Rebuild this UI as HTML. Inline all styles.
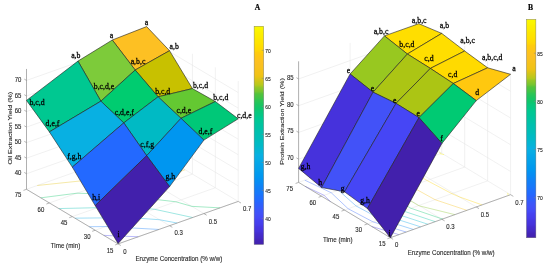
<!DOCTYPE html>
<html><head><meta charset="utf-8"><style>
html,body{margin:0;padding:0;background:#fff;}
svg{display:block;filter:blur(0.3px);}
</style></head><body>
<svg width="550" height="267" viewBox="0 0 550 267">
<rect width="550" height="267" fill="#fff"/>
<g><line x1="26.5" y1="189.3" x2="146.62" y2="146.81" stroke="#e2e2e2" stroke-width="0.5"/><line x1="146.62" y1="146.81" x2="146.62" y2="26.45" stroke="#e2e2e2" stroke-width="0.5"/><line x1="49.4" y1="202.95" x2="169.52" y2="160.46" stroke="#e2e2e2" stroke-width="0.5"/><line x1="72.3" y1="216.6" x2="192.42" y2="174.11" stroke="#e2e2e2" stroke-width="0.5"/><line x1="192.42" y1="174.11" x2="192.42" y2="53.75" stroke="#e2e2e2" stroke-width="0.5"/><line x1="95.2" y1="230.25" x2="215.32" y2="187.76" stroke="#e2e2e2" stroke-width="0.5"/><line x1="215.32" y1="187.76" x2="215.32" y2="67.4" stroke="#e2e2e2" stroke-width="0.5"/><line x1="118.1" y1="243.9" x2="238.22" y2="201.41" stroke="#e2e2e2" stroke-width="0.5"/><line x1="238.22" y1="201.41" x2="238.22" y2="81.05" stroke="#e2e2e2" stroke-width="0.5"/><line x1="26.5" y1="189.3" x2="118.1" y2="243.9" stroke="#e2e2e2" stroke-width="0.5"/><line x1="26.5" y1="189.3" x2="26.5" y2="68.94" stroke="#e2e2e2" stroke-width="0.5"/><line x1="77.98" y1="171.09" x2="169.58" y2="225.69" stroke="#e2e2e2" stroke-width="0.5"/><line x1="77.98" y1="171.09" x2="77.98" y2="50.73" stroke="#e2e2e2" stroke-width="0.5"/><line x1="112.3" y1="158.95" x2="203.9" y2="213.55" stroke="#e2e2e2" stroke-width="0.5"/><line x1="112.3" y1="158.95" x2="112.3" y2="38.59" stroke="#e2e2e2" stroke-width="0.5"/><line x1="146.62" y1="146.81" x2="238.22" y2="201.41" stroke="#e2e2e2" stroke-width="0.5"/><line x1="146.62" y1="146.81" x2="146.62" y2="26.45" stroke="#e2e2e2" stroke-width="0.5"/><line x1="26.5" y1="173.75" x2="146.62" y2="131.26" stroke="#e2e2e2" stroke-width="0.5"/><line x1="146.62" y1="131.26" x2="238.22" y2="185.86" stroke="#e2e2e2" stroke-width="0.5"/><line x1="26.5" y1="158.2" x2="146.62" y2="115.71" stroke="#e2e2e2" stroke-width="0.5"/><line x1="146.62" y1="115.71" x2="238.22" y2="170.31" stroke="#e2e2e2" stroke-width="0.5"/><line x1="26.5" y1="142.65" x2="146.62" y2="100.16" stroke="#e2e2e2" stroke-width="0.5"/><line x1="146.62" y1="100.16" x2="238.22" y2="154.76" stroke="#e2e2e2" stroke-width="0.5"/><line x1="26.5" y1="127.1" x2="146.62" y2="84.61" stroke="#e2e2e2" stroke-width="0.5"/><line x1="146.62" y1="84.61" x2="238.22" y2="139.21" stroke="#e2e2e2" stroke-width="0.5"/><line x1="26.5" y1="111.55" x2="146.62" y2="69.06" stroke="#e2e2e2" stroke-width="0.5"/><line x1="146.62" y1="69.06" x2="238.22" y2="123.66" stroke="#e2e2e2" stroke-width="0.5"/><line x1="26.5" y1="96" x2="146.62" y2="53.51" stroke="#e2e2e2" stroke-width="0.5"/><line x1="146.62" y1="53.51" x2="238.22" y2="108.11" stroke="#e2e2e2" stroke-width="0.5"/><line x1="26.5" y1="80.45" x2="146.62" y2="37.96" stroke="#e2e2e2" stroke-width="0.5"/><line x1="146.62" y1="37.96" x2="238.22" y2="92.56" stroke="#e2e2e2" stroke-width="0.5"/></g>
<g><path d="M138.26 236.77 L103.79 235.37" fill="none" stroke="#4646f5" stroke-width="0.5" stroke-opacity="0.75"/><path d="M158.95 229.45 L105.64 226.56 L89.26 226.71" fill="none" stroke="#147cf9" stroke-width="0.5" stroke-opacity="0.75"/><path d="M177.13 223.02 L159.6 219.74 L130.83 217.65 L74.93 218.17" fill="none" stroke="#05a8e6" stroke-width="0.5" stroke-opacity="0.75"/><path d="M192.66 217.52 L154.54 209.26 L139.76 207.91 L97.46 207.7 L58.8 208.56" fill="none" stroke="#00bfb2" stroke-width="0.5" stroke-opacity="0.75"/><path d="M220.01 207.85 L191.82 206.35 L175.75 201.76 L129.34 196.42 L117.35 194.56 L77.02 193.18 L40.8 197.83" fill="none" stroke="#11c668" stroke-width="0.5" stroke-opacity="0.75"/><path d="M185.06 169.73 L151.4 182.25 L118.45 178.52 L92.43 179.7 L37.24 185.5" fill="none" stroke="#e4c416" stroke-width="0.5" stroke-opacity="0.75"/><path d="M170.38 160.97 L165.16 162 L126.45 167.38 L78.97 171.68 L75.2 172.07" fill="none" stroke="#ffd505" stroke-width="0.5" stroke-opacity="0.75"/></g>
<g><line x1="26.5" y1="189.3" x2="26.5" y2="68.94" stroke="#858585" stroke-width="0.6"/><line x1="26.5" y1="189.3" x2="118.1" y2="243.9" stroke="#858585" stroke-width="0.6"/><line x1="118.1" y1="243.9" x2="238.22" y2="201.41" stroke="#858585" stroke-width="0.6"/><line x1="26.5" y1="173.75" x2="24.3" y2="172.44" stroke="#858585" stroke-width="0.6"/><line x1="26.5" y1="158.2" x2="24.3" y2="156.89" stroke="#858585" stroke-width="0.6"/><line x1="26.5" y1="142.65" x2="24.3" y2="141.34" stroke="#858585" stroke-width="0.6"/><line x1="26.5" y1="127.1" x2="24.3" y2="125.79" stroke="#858585" stroke-width="0.6"/><line x1="26.5" y1="111.55" x2="24.3" y2="110.24" stroke="#858585" stroke-width="0.6"/><line x1="26.5" y1="96" x2="24.3" y2="94.69" stroke="#858585" stroke-width="0.6"/><line x1="26.5" y1="80.45" x2="24.3" y2="79.14" stroke="#858585" stroke-width="0.6"/><line x1="26.5" y1="189.3" x2="23.48" y2="190.37" stroke="#858585" stroke-width="0.6"/><line x1="49.4" y1="202.95" x2="46.38" y2="204.02" stroke="#858585" stroke-width="0.6"/><line x1="72.3" y1="216.6" x2="69.28" y2="217.67" stroke="#858585" stroke-width="0.6"/><line x1="95.2" y1="230.25" x2="92.18" y2="231.32" stroke="#858585" stroke-width="0.6"/><line x1="118.1" y1="243.9" x2="115.08" y2="244.97" stroke="#858585" stroke-width="0.6"/><line x1="118.1" y1="243.9" x2="120.85" y2="245.54" stroke="#858585" stroke-width="0.6"/><line x1="169.58" y1="225.69" x2="172.33" y2="227.33" stroke="#858585" stroke-width="0.6"/><line x1="203.9" y1="213.55" x2="206.65" y2="215.19" stroke="#858585" stroke-width="0.6"/><line x1="238.22" y1="201.41" x2="240.97" y2="203.05" stroke="#858585" stroke-width="0.6"/></g>
<g><polygon points="112.3,40 146.62,26.6 169.52,50.7 135.2,70" fill="#fdc023" stroke="#202020" stroke-width="0.6" stroke-linejoin="round"/><polygon points="77.98,61.1 112.3,40 135.2,70 100.88,101.2" fill="#7dcb3a" stroke="#202020" stroke-width="0.6" stroke-linejoin="round"/><polygon points="135.2,70 169.52,50.7 192.42,88.6 158.1,96.8" fill="#c8c100" stroke="#202020" stroke-width="0.6" stroke-linejoin="round"/><polygon points="26.5,100.4 77.98,61.1 100.88,101.2 49.4,131.9" fill="#00c891" stroke="#202020" stroke-width="0.6" stroke-linejoin="round"/><polygon points="100.88,101.2 135.2,70 158.1,96.8 123.78,122.9" fill="#00cc70" stroke="#202020" stroke-width="0.6" stroke-linejoin="round"/><polygon points="158.1,96.8 192.42,88.6 215.32,101.5 181,118.3" fill="#64c832" stroke="#202020" stroke-width="0.6" stroke-linejoin="round"/><polygon points="49.4,131.9 100.88,101.2 123.78,122.9 72.3,167.1" fill="#08b0e2" stroke="#202020" stroke-width="0.6" stroke-linejoin="round"/><polygon points="123.78,122.9 158.1,96.8 181,118.3 146.68,155.6" fill="#00bac4" stroke="#202020" stroke-width="0.6" stroke-linejoin="round"/><polygon points="181,118.3 215.32,101.5 238.22,118.8 203.9,140.1" fill="#00c878" stroke="#202020" stroke-width="0.6" stroke-linejoin="round"/><polygon points="72.3,167.1 123.78,122.9 146.68,155.6 95.2,205.6" fill="#2369ff" stroke="#202020" stroke-width="0.6" stroke-linejoin="round"/><polygon points="146.68,155.6 181,118.3 203.9,140.1 169.58,186.6" fill="#0096f0" stroke="#202020" stroke-width="0.6" stroke-linejoin="round"/><polygon points="95.2,205.6 146.68,155.6 169.58,186.6 118.1,243.5" fill="#4220ac" stroke="#202020" stroke-width="0.6" stroke-linejoin="round"/></g>
<g><line x1="298.6" y1="182.4" x2="418.79" y2="139.4" stroke="#e2e2e2" stroke-width="0.5"/><line x1="418.79" y1="139.4" x2="418.79" y2="18.34" stroke="#e2e2e2" stroke-width="0.5"/><line x1="321.55" y1="196.22" x2="441.74" y2="153.22" stroke="#e2e2e2" stroke-width="0.5"/><line x1="441.74" y1="153.22" x2="441.74" y2="32.17" stroke="#e2e2e2" stroke-width="0.5"/><line x1="344.5" y1="210.05" x2="464.69" y2="167.05" stroke="#e2e2e2" stroke-width="0.5"/><line x1="464.69" y1="167.05" x2="464.69" y2="45.99" stroke="#e2e2e2" stroke-width="0.5"/><line x1="367.45" y1="223.88" x2="487.64" y2="180.87" stroke="#e2e2e2" stroke-width="0.5"/><line x1="487.64" y1="180.87" x2="487.64" y2="59.82" stroke="#e2e2e2" stroke-width="0.5"/><line x1="390.4" y1="237.7" x2="510.59" y2="194.7" stroke="#e2e2e2" stroke-width="0.5"/><line x1="510.59" y1="194.7" x2="510.59" y2="73.64" stroke="#e2e2e2" stroke-width="0.5"/><line x1="298.6" y1="182.4" x2="390.4" y2="237.7" stroke="#e2e2e2" stroke-width="0.5"/><line x1="298.6" y1="182.4" x2="298.6" y2="61.34" stroke="#e2e2e2" stroke-width="0.5"/><line x1="350.11" y1="163.97" x2="441.91" y2="219.27" stroke="#e2e2e2" stroke-width="0.5"/><line x1="350.11" y1="163.97" x2="350.11" y2="42.91" stroke="#e2e2e2" stroke-width="0.5"/><line x1="384.45" y1="151.69" x2="476.25" y2="206.98" stroke="#e2e2e2" stroke-width="0.5"/><line x1="384.45" y1="151.69" x2="384.45" y2="30.63" stroke="#e2e2e2" stroke-width="0.5"/><line x1="418.79" y1="139.4" x2="510.59" y2="194.7" stroke="#e2e2e2" stroke-width="0.5"/><line x1="418.79" y1="139.4" x2="418.79" y2="18.34" stroke="#e2e2e2" stroke-width="0.5"/><line x1="298.6" y1="159.19" x2="418.79" y2="116.19" stroke="#e2e2e2" stroke-width="0.5"/><line x1="418.79" y1="116.19" x2="510.59" y2="171.49" stroke="#e2e2e2" stroke-width="0.5"/><line x1="298.6" y1="132.46" x2="418.79" y2="89.46" stroke="#e2e2e2" stroke-width="0.5"/><line x1="418.79" y1="89.46" x2="510.59" y2="144.76" stroke="#e2e2e2" stroke-width="0.5"/><line x1="298.6" y1="105.72" x2="418.79" y2="62.72" stroke="#e2e2e2" stroke-width="0.5"/><line x1="418.79" y1="62.72" x2="510.59" y2="118.02" stroke="#e2e2e2" stroke-width="0.5"/><line x1="298.6" y1="78.99" x2="418.79" y2="35.99" stroke="#e2e2e2" stroke-width="0.5"/><line x1="418.79" y1="35.99" x2="510.59" y2="91.29" stroke="#e2e2e2" stroke-width="0.5"/></g>
<g><path d="M391.63 237.26 L387.69 236.07" fill="none" stroke="#4222b1" stroke-width="0.5" stroke-opacity="0.75"/><path d="M330.67 201.72 L324.09 195.32 L305.07 186.3" fill="none" stroke="#463dea" stroke-width="0.5" stroke-opacity="0.75"/><path d="M398.89 234.66 L371.72 226.45" fill="none" stroke="#463dea" stroke-width="0.5" stroke-opacity="0.75"/><path d="M406.15 232.06 L373.02 221.88 L348.15 208.74 L331.25 192.75 L304.84 180.17" fill="none" stroke="#2d62fd" stroke-width="0.5" stroke-opacity="0.75"/><path d="M413.42 229.47 L380.62 219.16 L356.02 205.93 L338.42 190.19 L312.09 177.57" fill="none" stroke="#0c86f5" stroke-width="0.5" stroke-opacity="0.75"/><path d="M420.68 226.87 L388.22 216.44 L363.89 203.11 L345.59 187.63 L319.34 174.98" fill="none" stroke="#04a3e9" stroke-width="0.5" stroke-opacity="0.75"/><path d="M427.94 224.27 L395.82 213.73 L371.77 200.29 L352.75 185.06 L326.59 172.38" fill="none" stroke="#02b8cb" stroke-width="0.5" stroke-opacity="0.75"/><path d="M435.2 221.67 L403.42 211.01 L379.64 197.48 L359.92 182.5 L333.84 169.79" fill="none" stroke="#00c3a4" stroke-width="0.5" stroke-opacity="0.75"/><path d="M442.82 218.95 L440.37 218.34 L411.02 208.29 L387.51 194.66 L367.08 179.93 L341.1 167.2" fill="none" stroke="#0dc66e" stroke-width="0.5" stroke-opacity="0.75"/><path d="M454.85 214.64 L419.87 206 L418.62 205.57 L395.38 191.85 L388.57 187.14 L375.41 176.95 L363.75 172.19 L348.35 164.6" fill="none" stroke="#88c62a" stroke-width="0.5" stroke-opacity="0.75"/><path d="M466.89 210.34 L435.05 199.69 L410.89 186.3 L389.58 171.88 L360.88 160.12" fill="none" stroke="#f6c21b" stroke-width="0.5" stroke-opacity="0.75"/><path d="M482.06 204.9 L459.62 196.97 L451.88 193.67 L427.06 180.51 L403.75 166.81 L375.1 155.03" fill="none" stroke="#ffd505" stroke-width="0.5" stroke-opacity="0.75"/><path d="M444 154.59 L440.2 153.77 L439.67 151.98" fill="none" stroke="#fbf200" stroke-width="0.5" stroke-opacity="0.75"/><path d="M508.27 195.53 L507.62 192.91" fill="none" stroke="#fbf200" stroke-width="0.5" stroke-opacity="0.75"/></g>
<g><line x1="298.6" y1="182.4" x2="298.6" y2="61.34" stroke="#858585" stroke-width="0.6"/><line x1="298.6" y1="182.4" x2="390.4" y2="237.7" stroke="#858585" stroke-width="0.6"/><line x1="390.4" y1="237.7" x2="510.59" y2="194.7" stroke="#858585" stroke-width="0.6"/><line x1="298.6" y1="159.19" x2="296.41" y2="157.87" stroke="#858585" stroke-width="0.6"/><line x1="298.6" y1="132.46" x2="296.41" y2="131.14" stroke="#858585" stroke-width="0.6"/><line x1="298.6" y1="105.72" x2="296.41" y2="104.4" stroke="#858585" stroke-width="0.6"/><line x1="298.6" y1="78.99" x2="296.41" y2="77.67" stroke="#858585" stroke-width="0.6"/><line x1="298.6" y1="182.4" x2="295.59" y2="183.48" stroke="#858585" stroke-width="0.6"/><line x1="321.55" y1="196.22" x2="318.54" y2="197.3" stroke="#858585" stroke-width="0.6"/><line x1="344.5" y1="210.05" x2="341.49" y2="211.13" stroke="#858585" stroke-width="0.6"/><line x1="367.45" y1="223.88" x2="364.44" y2="224.95" stroke="#858585" stroke-width="0.6"/><line x1="390.4" y1="237.7" x2="387.39" y2="238.78" stroke="#858585" stroke-width="0.6"/><line x1="390.4" y1="237.7" x2="393.14" y2="239.35" stroke="#858585" stroke-width="0.6"/><line x1="441.91" y1="219.27" x2="444.65" y2="220.92" stroke="#858585" stroke-width="0.6"/><line x1="476.25" y1="206.98" x2="478.99" y2="208.64" stroke="#858585" stroke-width="0.6"/><line x1="510.59" y1="194.7" x2="513.33" y2="196.35" stroke="#858585" stroke-width="0.6"/></g>
<g><polygon points="384.45,35.9 418.79,23.7 441.74,33.4 407.4,54" fill="#ffde00" stroke="#202020" stroke-width="0.6" stroke-linejoin="round"/><polygon points="350.11,74 384.45,35.9 407.4,54 373.06,92.2" fill="#98c820" stroke="#202020" stroke-width="0.6" stroke-linejoin="round"/><polygon points="407.4,54 441.74,33.4 464.69,51 430.35,68.4" fill="#ffde00" stroke="#202020" stroke-width="0.6" stroke-linejoin="round"/><polygon points="298.6,168.4 350.11,74 373.06,92.2 321.55,187.5" fill="#4632dc" stroke="#202020" stroke-width="0.6" stroke-linejoin="round"/><polygon points="373.06,92.2 407.4,54 430.35,68.4 396.01,103.4" fill="#acc514" stroke="#202020" stroke-width="0.6" stroke-linejoin="round"/><polygon points="430.35,68.4 464.69,51 487.64,67.8 453.3,83.5" fill="#ffda00" stroke="#202020" stroke-width="0.6" stroke-linejoin="round"/><polygon points="321.55,187.5 373.06,92.2 396.01,103.4 344.5,191.8" fill="#4252f8" stroke="#202020" stroke-width="0.6" stroke-linejoin="round"/><polygon points="396.01,103.4 430.35,68.4 453.3,83.5 418.96,117.6" fill="#acc514" stroke="#202020" stroke-width="0.6" stroke-linejoin="round"/><polygon points="453.3,83.5 487.64,67.8 510.59,74.3 476.25,100.6" fill="#ffc80f" stroke="#202020" stroke-width="0.6" stroke-linejoin="round"/><polygon points="344.5,191.8 396.01,103.4 418.96,117.6 367.45,208.5" fill="#4646f5" stroke="#202020" stroke-width="0.6" stroke-linejoin="round"/><polygon points="418.96,117.6 453.3,83.5 476.25,100.6 441.91,143.4" fill="#00ca73" stroke="#202020" stroke-width="0.6" stroke-linejoin="round"/><polygon points="367.45,208.5 418.96,117.6 441.91,143.4 390.4,237.7" fill="#4220ac" stroke="#202020" stroke-width="0.6" stroke-linejoin="round"/></g>
<text transform="translate(146.5,24.5) scale(1,1.15)" font-family="'Liberation Serif', 'Times New Roman', serif" font-size="7.8" text-anchor="middle" font-weight="normal" fill="#000" stroke="#000" stroke-width="0.25">a</text>
<text transform="translate(111.5,38.1) scale(1,1.15)" font-family="'Liberation Serif', 'Times New Roman', serif" font-size="7.8" text-anchor="middle" font-weight="normal" fill="#000" stroke="#000" stroke-width="0.25">a</text>
<text transform="translate(174.2,49.2) scale(1,1.15)" font-family="'Liberation Serif', 'Times New Roman', serif" font-size="7.8" text-anchor="middle" font-weight="normal" fill="#000" stroke="#000" stroke-width="0.25">a,b</text>
<text transform="translate(138,64.4) scale(1,1.15)" font-family="'Liberation Serif', 'Times New Roman', serif" font-size="7.8" text-anchor="middle" font-weight="normal" fill="#000" stroke="#000" stroke-width="0.25">a,b,c</text>
<text transform="translate(75.8,58.4) scale(1,1.15)" font-family="'Liberation Serif', 'Times New Roman', serif" font-size="7.8" text-anchor="middle" font-weight="normal" fill="#000" stroke="#000" stroke-width="0.25">a,b</text>
<text transform="translate(37,104.9) scale(1,1.15)" font-family="'Liberation Serif', 'Times New Roman', serif" font-size="7.8" text-anchor="middle" font-weight="normal" fill="#000" stroke="#000" stroke-width="0.25">b,c,d</text>
<text transform="translate(104,89.2) scale(1,1.15)" font-family="'Liberation Serif', 'Times New Roman', serif" font-size="7.8" text-anchor="middle" font-weight="normal" fill="#000" stroke="#000" stroke-width="0.25">b,c,d,e</text>
<text transform="translate(162.7,93.9) scale(1,1.15)" font-family="'Liberation Serif', 'Times New Roman', serif" font-size="7.8" text-anchor="middle" font-weight="normal" fill="#000" stroke="#000" stroke-width="0.25">b,c,d</text>
<text transform="translate(200.5,87.7) scale(1,1.15)" font-family="'Liberation Serif', 'Times New Roman', serif" font-size="7.8" text-anchor="middle" font-weight="normal" fill="#000" stroke="#000" stroke-width="0.25">b,c,d</text>
<text transform="translate(220.8,100.4) scale(1,1.15)" font-family="'Liberation Serif', 'Times New Roman', serif" font-size="7.8" text-anchor="middle" font-weight="normal" fill="#000" stroke="#000" stroke-width="0.25">b,c,d</text>
<text transform="translate(244.3,117.7) scale(1,1.15)" font-family="'Liberation Serif', 'Times New Roman', serif" font-size="7.8" text-anchor="middle" font-weight="normal" fill="#000" stroke="#000" stroke-width="0.25">c,d,e</text>
<text transform="translate(124.3,114.5) scale(1,1.15)" font-family="'Liberation Serif', 'Times New Roman', serif" font-size="7.8" text-anchor="middle" font-weight="normal" fill="#000" stroke="#000" stroke-width="0.25">c,d,e,f</text>
<text transform="translate(183.8,113.3) scale(1,1.15)" font-family="'Liberation Serif', 'Times New Roman', serif" font-size="7.8" text-anchor="middle" font-weight="normal" fill="#000" stroke="#000" stroke-width="0.25">c,d,e</text>
<text transform="translate(52.5,126.3) scale(1,1.15)" font-family="'Liberation Serif', 'Times New Roman', serif" font-size="7.8" text-anchor="middle" font-weight="normal" fill="#000" stroke="#000" stroke-width="0.25">d,e,f</text>
<text transform="translate(205.4,134.3) scale(1,1.15)" font-family="'Liberation Serif', 'Times New Roman', serif" font-size="7.8" text-anchor="middle" font-weight="normal" fill="#000" stroke="#000" stroke-width="0.25">d,e,f</text>
<text transform="translate(147.2,146.7) scale(1,1.15)" font-family="'Liberation Serif', 'Times New Roman', serif" font-size="7.8" text-anchor="middle" font-weight="normal" fill="#000" stroke="#000" stroke-width="0.25">c,f,g</text>
<text transform="translate(74.3,159) scale(1,1.15)" font-family="'Liberation Serif', 'Times New Roman', serif" font-size="7.8" text-anchor="middle" font-weight="normal" fill="#000" stroke="#000" stroke-width="0.25">f,g,h</text>
<text transform="translate(170.3,178.9) scale(1,1.15)" font-family="'Liberation Serif', 'Times New Roman', serif" font-size="7.8" text-anchor="middle" font-weight="normal" fill="#000" stroke="#000" stroke-width="0.25">g,h</text>
<text transform="translate(96.2,199.9) scale(1,1.15)" font-family="'Liberation Serif', 'Times New Roman', serif" font-size="7.8" text-anchor="middle" font-weight="normal" fill="#000" stroke="#000" stroke-width="0.25">h,i</text>
<text transform="translate(118.5,236.5) scale(1,1.15)" font-family="'Liberation Serif', 'Times New Roman', serif" font-size="7.8" text-anchor="middle" font-weight="normal" fill="#000" stroke="#000" stroke-width="0.25">i</text>
<text transform="translate(21.3,175.3) scale(1,1.15)" font-family="'Liberation Sans', Arial, sans-serif" font-size="6" text-anchor="end" font-weight="normal" fill="#262626" stroke="#262626" stroke-width="0.1">40</text>
<text transform="translate(21.3,159.75) scale(1,1.15)" font-family="'Liberation Sans', Arial, sans-serif" font-size="6" text-anchor="end" font-weight="normal" fill="#262626" stroke="#262626" stroke-width="0.1">45</text>
<text transform="translate(21.3,144.2) scale(1,1.15)" font-family="'Liberation Sans', Arial, sans-serif" font-size="6" text-anchor="end" font-weight="normal" fill="#262626" stroke="#262626" stroke-width="0.1">50</text>
<text transform="translate(21.3,128.65) scale(1,1.15)" font-family="'Liberation Sans', Arial, sans-serif" font-size="6" text-anchor="end" font-weight="normal" fill="#262626" stroke="#262626" stroke-width="0.1">55</text>
<text transform="translate(21.3,113.1) scale(1,1.15)" font-family="'Liberation Sans', Arial, sans-serif" font-size="6" text-anchor="end" font-weight="normal" fill="#262626" stroke="#262626" stroke-width="0.1">60</text>
<text transform="translate(21.3,97.55) scale(1,1.15)" font-family="'Liberation Sans', Arial, sans-serif" font-size="6" text-anchor="end" font-weight="normal" fill="#262626" stroke="#262626" stroke-width="0.1">65</text>
<text transform="translate(21.3,82) scale(1,1.15)" font-family="'Liberation Sans', Arial, sans-serif" font-size="6" text-anchor="end" font-weight="normal" fill="#262626" stroke="#262626" stroke-width="0.1">70</text>
<text transform="translate(18.1,196.8) scale(1,1.15)" font-family="'Liberation Sans', Arial, sans-serif" font-size="6" text-anchor="middle" font-weight="normal" fill="#262626" stroke="#262626" stroke-width="0.1">75</text>
<text transform="translate(40.9,211.5) scale(1,1.15)" font-family="'Liberation Sans', Arial, sans-serif" font-size="6" text-anchor="middle" font-weight="normal" fill="#262626" stroke="#262626" stroke-width="0.1">60</text>
<text transform="translate(64,225.3) scale(1,1.15)" font-family="'Liberation Sans', Arial, sans-serif" font-size="6" text-anchor="middle" font-weight="normal" fill="#262626" stroke="#262626" stroke-width="0.1">45</text>
<text transform="translate(87.2,238.9) scale(1,1.15)" font-family="'Liberation Sans', Arial, sans-serif" font-size="6" text-anchor="middle" font-weight="normal" fill="#262626" stroke="#262626" stroke-width="0.1">30</text>
<text transform="translate(110,252.7) scale(1,1.15)" font-family="'Liberation Sans', Arial, sans-serif" font-size="6" text-anchor="middle" font-weight="normal" fill="#262626" stroke="#262626" stroke-width="0.1">15</text>
<text transform="translate(124.8,253.8) scale(1,1.15)" font-family="'Liberation Sans', Arial, sans-serif" font-size="6" text-anchor="middle" font-weight="normal" fill="#262626" stroke="#262626" stroke-width="0.1">0</text>
<text transform="translate(178.6,235.4) scale(1,1.15)" font-family="'Liberation Sans', Arial, sans-serif" font-size="6" text-anchor="middle" font-weight="normal" fill="#262626" stroke="#262626" stroke-width="0.1">0.3</text>
<text transform="translate(212.9,223.7) scale(1,1.15)" font-family="'Liberation Sans', Arial, sans-serif" font-size="6" text-anchor="middle" font-weight="normal" fill="#262626" stroke="#262626" stroke-width="0.1">0.5</text>
<text transform="translate(247.2,210.7) scale(1,1.15)" font-family="'Liberation Sans', Arial, sans-serif" font-size="6" text-anchor="middle" font-weight="normal" fill="#262626" stroke="#262626" stroke-width="0.1">0.7</text>
<text transform="translate(65.5,248.4) scale(1,1.15)" font-family="'Liberation Sans', Arial, sans-serif" font-size="6.25" text-anchor="middle" font-weight="normal" fill="#262626" stroke="#262626" stroke-width="0.1">Time (min)</text>
<text transform="translate(178.9,261) scale(1,1.15)" font-family="'Liberation Sans', Arial, sans-serif" font-size="6.25" text-anchor="middle" font-weight="normal" fill="#262626" stroke="#262626" stroke-width="0.1">Enzyme Concentration (% w/w)</text>
<text transform="translate(11.5,128.2) rotate(-90) scale(1.15,1)" font-family="'Liberation Sans', Arial, sans-serif" font-size="6.2" text-anchor="middle" font-weight="normal" fill="#262626" stroke="#262626" stroke-width="0.1">Oil Extraction Yield (%)</text>
<text transform="translate(381,34.2) scale(1,1.15)" font-family="'Liberation Serif', 'Times New Roman', serif" font-size="7.8" text-anchor="middle" font-weight="normal" fill="#000" stroke="#000" stroke-width="0.25">a,b,c</text>
<text transform="translate(419.2,22.7) scale(1,1.15)" font-family="'Liberation Serif', 'Times New Roman', serif" font-size="7.8" text-anchor="middle" font-weight="normal" fill="#000" stroke="#000" stroke-width="0.25">a,b,c</text>
<text transform="translate(444.4,28.2) scale(1,1.15)" font-family="'Liberation Serif', 'Times New Roman', serif" font-size="7.8" text-anchor="middle" font-weight="normal" fill="#000" stroke="#000" stroke-width="0.25">a,b</text>
<text transform="translate(467.6,43) scale(1,1.15)" font-family="'Liberation Serif', 'Times New Roman', serif" font-size="7.8" text-anchor="middle" font-weight="normal" fill="#000" stroke="#000" stroke-width="0.25">a,b,c</text>
<text transform="translate(492.2,59.8) scale(1,1.15)" font-family="'Liberation Serif', 'Times New Roman', serif" font-size="7.8" text-anchor="middle" font-weight="normal" fill="#000" stroke="#000" stroke-width="0.25">a,b,c,d</text>
<text transform="translate(514,71.2) scale(1,1.15)" font-family="'Liberation Serif', 'Times New Roman', serif" font-size="7.8" text-anchor="middle" font-weight="normal" fill="#000" stroke="#000" stroke-width="0.25">a</text>
<text transform="translate(406.9,46.9) scale(1,1.15)" font-family="'Liberation Serif', 'Times New Roman', serif" font-size="7.8" text-anchor="middle" font-weight="normal" fill="#000" stroke="#000" stroke-width="0.25">b,c,d</text>
<text transform="translate(429,61) scale(1,1.15)" font-family="'Liberation Serif', 'Times New Roman', serif" font-size="7.8" text-anchor="middle" font-weight="normal" fill="#000" stroke="#000" stroke-width="0.25">c,d</text>
<text transform="translate(452.7,76.7) scale(1,1.15)" font-family="'Liberation Serif', 'Times New Roman', serif" font-size="7.8" text-anchor="middle" font-weight="normal" fill="#000" stroke="#000" stroke-width="0.25">c,d</text>
<text transform="translate(477.2,95.4) scale(1,1.15)" font-family="'Liberation Serif', 'Times New Roman', serif" font-size="7.8" text-anchor="middle" font-weight="normal" fill="#000" stroke="#000" stroke-width="0.25">d</text>
<text transform="translate(348.5,73) scale(1,1.15)" font-family="'Liberation Serif', 'Times New Roman', serif" font-size="7.8" text-anchor="middle" font-weight="normal" fill="#000" stroke="#000" stroke-width="0.25">e</text>
<text transform="translate(372.4,90.7) scale(1,1.15)" font-family="'Liberation Serif', 'Times New Roman', serif" font-size="7.8" text-anchor="middle" font-weight="normal" fill="#000" stroke="#000" stroke-width="0.25">e</text>
<text transform="translate(394.8,103.3) scale(1,1.15)" font-family="'Liberation Serif', 'Times New Roman', serif" font-size="7.8" text-anchor="middle" font-weight="normal" fill="#000" stroke="#000" stroke-width="0.25">e</text>
<text transform="translate(418.3,116.3) scale(1,1.15)" font-family="'Liberation Serif', 'Times New Roman', serif" font-size="7.8" text-anchor="middle" font-weight="normal" fill="#000" stroke="#000" stroke-width="0.25">e</text>
<text transform="translate(441.5,141.1) scale(1,1.15)" font-family="'Liberation Serif', 'Times New Roman', serif" font-size="7.8" text-anchor="middle" font-weight="normal" fill="#000" stroke="#000" stroke-width="0.25">f</text>
<text transform="translate(305.6,169.4) scale(1,1.15)" font-family="'Liberation Serif', 'Times New Roman', serif" font-size="7.8" text-anchor="middle" font-weight="normal" fill="#000" stroke="#000" stroke-width="0.25">g,h</text>
<text transform="translate(320.1,185) scale(1,1.15)" font-family="'Liberation Serif', 'Times New Roman', serif" font-size="7.8" text-anchor="middle" font-weight="normal" fill="#000" stroke="#000" stroke-width="0.25">h</text>
<text transform="translate(342.8,190.7) scale(1,1.15)" font-family="'Liberation Serif', 'Times New Roman', serif" font-size="7.8" text-anchor="middle" font-weight="normal" fill="#000" stroke="#000" stroke-width="0.25">g</text>
<text transform="translate(365.1,202.9) scale(1,1.15)" font-family="'Liberation Serif', 'Times New Roman', serif" font-size="7.8" text-anchor="middle" font-weight="normal" fill="#000" stroke="#000" stroke-width="0.25">g,h</text>
<text transform="translate(389.5,235.7) scale(1,1.15)" font-family="'Liberation Serif', 'Times New Roman', serif" font-size="7.8" text-anchor="middle" font-weight="normal" fill="#000" stroke="#000" stroke-width="0.25">i</text>
<text transform="translate(293.7,160.1) scale(1,1.15)" font-family="'Liberation Sans', Arial, sans-serif" font-size="6" text-anchor="end" font-weight="normal" fill="#262626" stroke="#262626" stroke-width="0.1">70</text>
<text transform="translate(293.7,133.36) scale(1,1.15)" font-family="'Liberation Sans', Arial, sans-serif" font-size="6" text-anchor="end" font-weight="normal" fill="#262626" stroke="#262626" stroke-width="0.1">75</text>
<text transform="translate(293.7,106.63) scale(1,1.15)" font-family="'Liberation Sans', Arial, sans-serif" font-size="6" text-anchor="end" font-weight="normal" fill="#262626" stroke="#262626" stroke-width="0.1">80</text>
<text transform="translate(293.7,79.89) scale(1,1.15)" font-family="'Liberation Sans', Arial, sans-serif" font-size="6" text-anchor="end" font-weight="normal" fill="#262626" stroke="#262626" stroke-width="0.1">85</text>
<text transform="translate(289.7,190.8) scale(1,1.15)" font-family="'Liberation Sans', Arial, sans-serif" font-size="6" text-anchor="middle" font-weight="normal" fill="#262626" stroke="#262626" stroke-width="0.1">75</text>
<text transform="translate(312.8,204.7) scale(1,1.15)" font-family="'Liberation Sans', Arial, sans-serif" font-size="6" text-anchor="middle" font-weight="normal" fill="#262626" stroke="#262626" stroke-width="0.1">60</text>
<text transform="translate(335.9,218.6) scale(1,1.15)" font-family="'Liberation Sans', Arial, sans-serif" font-size="6" text-anchor="middle" font-weight="normal" fill="#262626" stroke="#262626" stroke-width="0.1">45</text>
<text transform="translate(358.7,231.7) scale(1,1.15)" font-family="'Liberation Sans', Arial, sans-serif" font-size="6" text-anchor="middle" font-weight="normal" fill="#262626" stroke="#262626" stroke-width="0.1">30</text>
<text transform="translate(382.2,246.4) scale(1,1.15)" font-family="'Liberation Sans', Arial, sans-serif" font-size="6" text-anchor="middle" font-weight="normal" fill="#262626" stroke="#262626" stroke-width="0.1">15</text>
<text transform="translate(396.6,246.9) scale(1,1.15)" font-family="'Liberation Sans', Arial, sans-serif" font-size="6" text-anchor="middle" font-weight="normal" fill="#262626" stroke="#262626" stroke-width="0.1">0</text>
<text transform="translate(450.3,228.6) scale(1,1.15)" font-family="'Liberation Sans', Arial, sans-serif" font-size="6" text-anchor="middle" font-weight="normal" fill="#262626" stroke="#262626" stroke-width="0.1">0.3</text>
<text transform="translate(484.9,217.2) scale(1,1.15)" font-family="'Liberation Sans', Arial, sans-serif" font-size="6" text-anchor="middle" font-weight="normal" fill="#262626" stroke="#262626" stroke-width="0.1">0.5</text>
<text transform="translate(519.3,204.9) scale(1,1.15)" font-family="'Liberation Sans', Arial, sans-serif" font-size="6" text-anchor="middle" font-weight="normal" fill="#262626" stroke="#262626" stroke-width="0.1">0.7</text>
<text transform="translate(337.8,242.2) scale(1,1.15)" font-family="'Liberation Sans', Arial, sans-serif" font-size="6.25" text-anchor="middle" font-weight="normal" fill="#262626" stroke="#262626" stroke-width="0.1">Time (min)</text>
<text transform="translate(451.2,255.3) scale(1,1.15)" font-family="'Liberation Sans', Arial, sans-serif" font-size="6.25" text-anchor="middle" font-weight="normal" fill="#262626" stroke="#262626" stroke-width="0.1">Enzyme Concentration (% w/w)</text>
<text transform="translate(284,121.5) rotate(-90) scale(1.15,1)" font-family="'Liberation Sans', Arial, sans-serif" font-size="6.2" text-anchor="middle" font-weight="normal" fill="#262626" stroke="#262626" stroke-width="0.1">Protein Extraction Yield (%)</text>
<defs><linearGradient id="cbA" x1="0" y1="0" x2="0" y2="1"><stop offset="0" stop-color="#faf800"/><stop offset="0.02" stop-color="#fbf400"/><stop offset="0.03" stop-color="#fcef00"/><stop offset="0.05" stop-color="#fceb00"/><stop offset="0.06" stop-color="#fde600"/><stop offset="0.08" stop-color="#fee200"/><stop offset="0.09" stop-color="#ffde00"/><stop offset="0.11" stop-color="#ffd605"/><stop offset="0.12" stop-color="#ffcc0c"/><stop offset="0.14" stop-color="#fec615"/><stop offset="0.16" stop-color="#fdc11f"/><stop offset="0.17" stop-color="#fbc021"/><stop offset="0.19" stop-color="#f8c11e"/><stop offset="0.2" stop-color="#f5c21a"/><stop offset="0.22" stop-color="#f2c217"/><stop offset="0.23" stop-color="#ecc315"/><stop offset="0.25" stop-color="#d0c519"/><stop offset="0.27" stop-color="#b5c81d"/><stop offset="0.28" stop-color="#95c726"/><stop offset="0.3" stop-color="#74c531"/><stop offset="0.31" stop-color="#53c33b"/><stop offset="0.33" stop-color="#3fc448"/><stop offset="0.34" stop-color="#2dc554"/><stop offset="0.36" stop-color="#1ac561"/><stop offset="0.38" stop-color="#0dc66e"/><stop offset="0.39" stop-color="#09c77a"/><stop offset="0.41" stop-color="#04c786"/><stop offset="0.42" stop-color="#00c892"/><stop offset="0.44" stop-color="#00c698"/><stop offset="0.45" stop-color="#00c49f"/><stop offset="0.47" stop-color="#00c2a6"/><stop offset="0.48" stop-color="#00c0ad"/><stop offset="0.5" stop-color="#00bfb3"/><stop offset="0.52" stop-color="#00bdba"/><stop offset="0.53" stop-color="#00bbc1"/><stop offset="0.55" stop-color="#01b9c8"/><stop offset="0.56" stop-color="#03b6d1"/><stop offset="0.58" stop-color="#06b3d9"/><stop offset="0.59" stop-color="#08b0e2"/><stop offset="0.61" stop-color="#07ace4"/><stop offset="0.62" stop-color="#05a8e7"/><stop offset="0.64" stop-color="#04a3e9"/><stop offset="0.66" stop-color="#039feb"/><stop offset="0.67" stop-color="#029bed"/><stop offset="0.69" stop-color="#0097f0"/><stop offset="0.7" stop-color="#0491f2"/><stop offset="0.72" stop-color="#098af4"/><stop offset="0.73" stop-color="#0e84f6"/><stop offset="0.75" stop-color="#137df8"/><stop offset="0.77" stop-color="#1976fb"/><stop offset="0.78" stop-color="#1e70fd"/><stop offset="0.8" stop-color="#2369ff"/><stop offset="0.81" stop-color="#2a63fd"/><stop offset="0.83" stop-color="#335dfb"/><stop offset="0.84" stop-color="#3b57fa"/><stop offset="0.86" stop-color="#4251f8"/><stop offset="0.88" stop-color="#4549f6"/><stop offset="0.89" stop-color="#4642f1"/><stop offset="0.91" stop-color="#463dea"/><stop offset="0.92" stop-color="#4637e2"/><stop offset="0.94" stop-color="#4632db"/><stop offset="0.95" stop-color="#452dcf"/><stop offset="0.97" stop-color="#4429c3"/><stop offset="0.98" stop-color="#4324b8"/><stop offset="1" stop-color="#4220ac"/></linearGradient></defs>
<rect x="254.1" y="26.2" width="9.6" height="218.3" fill="url(#cbA)" stroke="#6e6e6e" stroke-width="0.4"/>
<line x1="261.7" y1="218.6" x2="263.7" y2="218.6" stroke="#858585" stroke-width="0.5"/>
<text transform="translate(265.3,221) scale(1,1.15)" font-family="'Liberation Sans', Arial, sans-serif" font-size="4.9" text-anchor="start" font-weight="normal" fill="#262626" stroke="#262626" stroke-width="0.1">40</text>
<line x1="261.7" y1="190.55" x2="263.7" y2="190.55" stroke="#858585" stroke-width="0.5"/>
<text transform="translate(265.3,192.95) scale(1,1.15)" font-family="'Liberation Sans', Arial, sans-serif" font-size="4.9" text-anchor="start" font-weight="normal" fill="#262626" stroke="#262626" stroke-width="0.1">45</text>
<line x1="261.7" y1="162.5" x2="263.7" y2="162.5" stroke="#858585" stroke-width="0.5"/>
<text transform="translate(265.3,164.9) scale(1,1.15)" font-family="'Liberation Sans', Arial, sans-serif" font-size="4.9" text-anchor="start" font-weight="normal" fill="#262626" stroke="#262626" stroke-width="0.1">50</text>
<line x1="261.7" y1="134.45" x2="263.7" y2="134.45" stroke="#858585" stroke-width="0.5"/>
<text transform="translate(265.3,136.85) scale(1,1.15)" font-family="'Liberation Sans', Arial, sans-serif" font-size="4.9" text-anchor="start" font-weight="normal" fill="#262626" stroke="#262626" stroke-width="0.1">55</text>
<line x1="261.7" y1="106.4" x2="263.7" y2="106.4" stroke="#858585" stroke-width="0.5"/>
<text transform="translate(265.3,108.8) scale(1,1.15)" font-family="'Liberation Sans', Arial, sans-serif" font-size="4.9" text-anchor="start" font-weight="normal" fill="#262626" stroke="#262626" stroke-width="0.1">60</text>
<line x1="261.7" y1="78.35" x2="263.7" y2="78.35" stroke="#858585" stroke-width="0.5"/>
<text transform="translate(265.3,80.75) scale(1,1.15)" font-family="'Liberation Sans', Arial, sans-serif" font-size="4.9" text-anchor="start" font-weight="normal" fill="#262626" stroke="#262626" stroke-width="0.1">65</text>
<line x1="261.7" y1="50.3" x2="263.7" y2="50.3" stroke="#858585" stroke-width="0.5"/>
<text transform="translate(265.3,52.7) scale(1,1.15)" font-family="'Liberation Sans', Arial, sans-serif" font-size="4.9" text-anchor="start" font-weight="normal" fill="#262626" stroke="#262626" stroke-width="0.1">70</text>
<defs><linearGradient id="cbB" x1="0" y1="0" x2="0" y2="1"><stop offset="0" stop-color="#faf800"/><stop offset="0.02" stop-color="#fbf400"/><stop offset="0.03" stop-color="#fcef00"/><stop offset="0.05" stop-color="#fceb00"/><stop offset="0.06" stop-color="#fde600"/><stop offset="0.08" stop-color="#fee200"/><stop offset="0.09" stop-color="#ffde00"/><stop offset="0.11" stop-color="#ffd605"/><stop offset="0.12" stop-color="#ffcc0c"/><stop offset="0.14" stop-color="#fec615"/><stop offset="0.16" stop-color="#fdc11f"/><stop offset="0.17" stop-color="#fbc021"/><stop offset="0.19" stop-color="#f8c11e"/><stop offset="0.2" stop-color="#f5c21a"/><stop offset="0.22" stop-color="#f2c217"/><stop offset="0.23" stop-color="#ecc315"/><stop offset="0.25" stop-color="#d0c519"/><stop offset="0.27" stop-color="#b5c81d"/><stop offset="0.28" stop-color="#95c726"/><stop offset="0.3" stop-color="#74c531"/><stop offset="0.31" stop-color="#53c33b"/><stop offset="0.33" stop-color="#3fc448"/><stop offset="0.34" stop-color="#2dc554"/><stop offset="0.36" stop-color="#1ac561"/><stop offset="0.38" stop-color="#0dc66e"/><stop offset="0.39" stop-color="#09c77a"/><stop offset="0.41" stop-color="#04c786"/><stop offset="0.42" stop-color="#00c892"/><stop offset="0.44" stop-color="#00c698"/><stop offset="0.45" stop-color="#00c49f"/><stop offset="0.47" stop-color="#00c2a6"/><stop offset="0.48" stop-color="#00c0ad"/><stop offset="0.5" stop-color="#00bfb3"/><stop offset="0.52" stop-color="#00bdba"/><stop offset="0.53" stop-color="#00bbc1"/><stop offset="0.55" stop-color="#01b9c8"/><stop offset="0.56" stop-color="#03b6d1"/><stop offset="0.58" stop-color="#06b3d9"/><stop offset="0.59" stop-color="#08b0e2"/><stop offset="0.61" stop-color="#07ace4"/><stop offset="0.62" stop-color="#05a8e7"/><stop offset="0.64" stop-color="#04a3e9"/><stop offset="0.66" stop-color="#039feb"/><stop offset="0.67" stop-color="#029bed"/><stop offset="0.69" stop-color="#0097f0"/><stop offset="0.7" stop-color="#0491f2"/><stop offset="0.72" stop-color="#098af4"/><stop offset="0.73" stop-color="#0e84f6"/><stop offset="0.75" stop-color="#137df8"/><stop offset="0.77" stop-color="#1976fb"/><stop offset="0.78" stop-color="#1e70fd"/><stop offset="0.8" stop-color="#2369ff"/><stop offset="0.81" stop-color="#2a63fd"/><stop offset="0.83" stop-color="#335dfb"/><stop offset="0.84" stop-color="#3b57fa"/><stop offset="0.86" stop-color="#4251f8"/><stop offset="0.88" stop-color="#4549f6"/><stop offset="0.89" stop-color="#4642f1"/><stop offset="0.91" stop-color="#463dea"/><stop offset="0.92" stop-color="#4637e2"/><stop offset="0.94" stop-color="#4632db"/><stop offset="0.95" stop-color="#452dcf"/><stop offset="0.97" stop-color="#4429c3"/><stop offset="0.98" stop-color="#4324b8"/><stop offset="1" stop-color="#4220ac"/></linearGradient></defs>
<rect x="526.4" y="19.3" width="9.5" height="218.5" fill="url(#cbB)" stroke="#6e6e6e" stroke-width="0.4"/>
<line x1="533.9" y1="197.7" x2="535.9" y2="197.7" stroke="#858585" stroke-width="0.5"/>
<text transform="translate(537.3,200.1) scale(1,1.15)" font-family="'Liberation Sans', Arial, sans-serif" font-size="4.9" text-anchor="start" font-weight="normal" fill="#262626" stroke="#262626" stroke-width="0.1">70</text>
<line x1="533.9" y1="149.55" x2="535.9" y2="149.55" stroke="#858585" stroke-width="0.5"/>
<text transform="translate(537.3,151.95) scale(1,1.15)" font-family="'Liberation Sans', Arial, sans-serif" font-size="4.9" text-anchor="start" font-weight="normal" fill="#262626" stroke="#262626" stroke-width="0.1">75</text>
<line x1="533.9" y1="101.4" x2="535.9" y2="101.4" stroke="#858585" stroke-width="0.5"/>
<text transform="translate(537.3,103.8) scale(1,1.15)" font-family="'Liberation Sans', Arial, sans-serif" font-size="4.9" text-anchor="start" font-weight="normal" fill="#262626" stroke="#262626" stroke-width="0.1">80</text>
<line x1="533.9" y1="53.25" x2="535.9" y2="53.25" stroke="#858585" stroke-width="0.5"/>
<text transform="translate(537.3,55.65) scale(1,1.15)" font-family="'Liberation Sans', Arial, sans-serif" font-size="4.9" text-anchor="start" font-weight="normal" fill="#262626" stroke="#262626" stroke-width="0.1">85</text>
<text transform="translate(257.5,9.9) scale(1,1.15)" font-family="'Liberation Serif', 'Times New Roman', serif" font-size="7.6" text-anchor="middle" font-weight="bold" fill="#000" stroke="#000" stroke-width="0.18">A</text>
<text transform="translate(530.6,9.9) scale(1,1.15)" font-family="'Liberation Serif', 'Times New Roman', serif" font-size="7.6" text-anchor="middle" font-weight="bold" fill="#000" stroke="#000" stroke-width="0.18">B</text>
</svg>
</body></html>
